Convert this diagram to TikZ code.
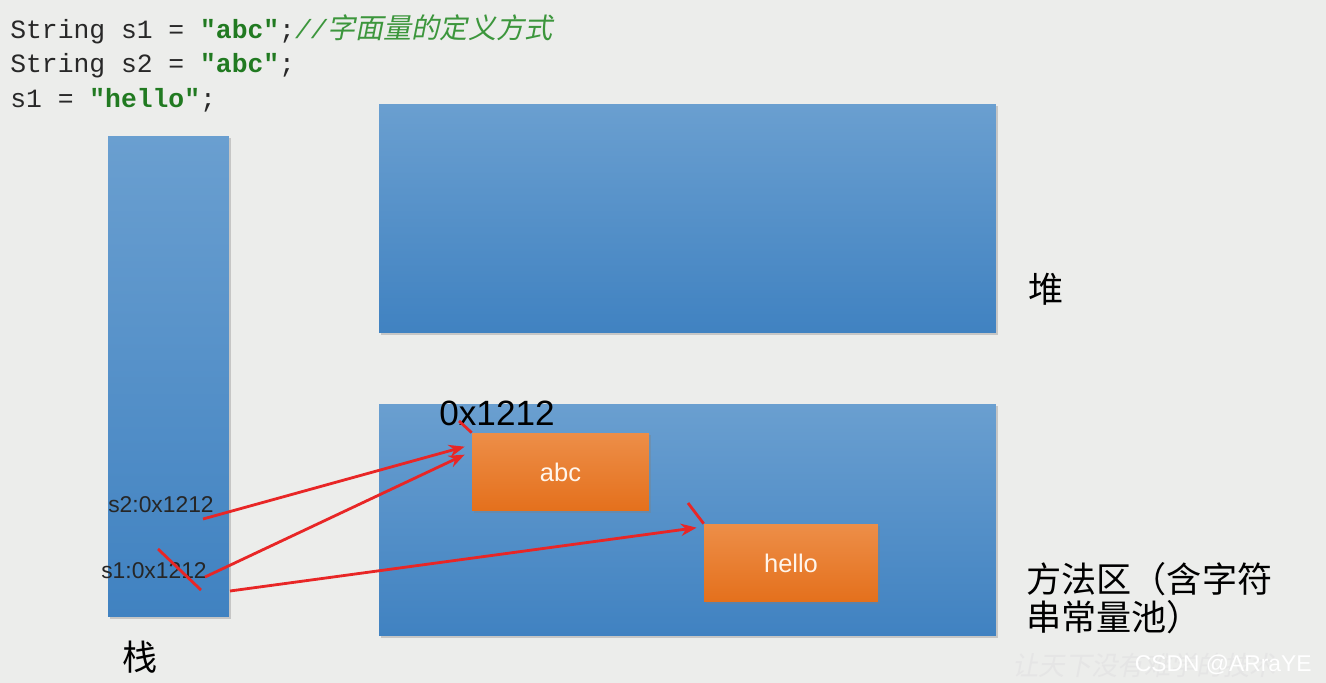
\documentclass[tikz,border=0pt]{standalone}
\usepackage{fontspec}
\setmainfont{Liberation Sans}
\setmonofont{Liberation Mono}
\newfontfamily\cjk{Noto Sans CJK SC}
\newfontfamily\cjkslant[FakeSlant=0.2]{Noto Sans CJK SC}
\usetikzlibrary{arrows.meta}
\usetikzlibrary{positioning}
\usetikzlibrary{shadows}
\definecolor{bg}{RGB}{236,237,235}
\definecolor{blueTop}{RGB}{106,159,208}
\definecolor{blueBot}{RGB}{64,130,193}
\definecolor{orTop}{RGB}{237,142,72}
\definecolor{orBot}{RGB}{228,112,28}
\definecolor{codeGray}{RGB}{40,40,40}
\definecolor{strGreen}{RGB}{33,122,33}
\definecolor{cmtGreen}{RGB}{60,150,60}
\definecolor{penRed}{RGB}{232,38,38}

\begin{document}
\begin{tikzpicture}[x=0.02cm, y=-0.02cm,
    area/.style={rectangle, inner sep=0pt, top color=blueTop, bottom color=blueBot,
      drop shadow={shadow xshift=1.2pt, shadow yshift=-1.2pt, opacity=.35}},
    strbox/.style={rectangle, inner sep=0pt, top color=orTop, bottom color=orBot,
      text=white!92!orange, font=\fontsize{14.5}{16}\selectfont,
      drop shadow={shadow xshift=1.2pt, shadow yshift=-1.2pt, opacity=.35}},
    codeline/.style={anchor=base west, inner sep=0pt, text=codeGray, font=\ttfamily\fontsize{15}{17}\selectfont},
    zone/.style={anchor=west, inner sep=0pt, font=\cjk\fontsize{20}{26}\selectfont, align=left},
    addr/.style={inner sep=0pt, font=\fontsize{13}{15}\selectfont, text=black!85},
    pen/.style={penRed, line width=1.6pt},
    ref/.style={pen, -{Stealth[length=9pt, width=7pt]}}]
    \useasboundingbox [fill=bg] (0,0) rectangle (1326,683);

    \node [codeline] (line1) at (10,38) {String s1 = \textcolor{strGreen}{\bfseries"abc"};\textcolor{cmtGreen}{\textit{//}\cjkslant\fontsize{16}{18}\selectfont 字面量的定义方式}};
    \node [codeline] (line2) at (10,72) {String s2 = \textcolor{strGreen}{\bfseries"abc"};};
    \node [codeline] (line3) at (10,107) {s1 = \textcolor{strGreen}{\bfseries"hello"};};

    \node [area, minimum width=2.42cm, minimum height=9.62cm] (stack) at (168.5,376.5) {};
    \node [area, minimum width=12.34cm, minimum height=4.58cm] (heap) at (687.5,218.5) {};
    \node [area, minimum width=12.34cm, minimum height=4.64cm] (method) at (687.5,520) {};

    \node [strbox, minimum width=3.54cm, minimum height=1.56cm] (abc) at (560.5,472) {abc};
    \node [strbox, minimum width=3.48cm, minimum height=1.56cm] (hello) at (791,563) {hello};

    \node [inner sep=0pt, font=\fontsize{20}{22}\selectfont] (abcaddr) at (497,413) {0x1212};
    \node [addr] (s2) at (161,505) {s2:0x1212};
    \node [addr] (s1) at (154,571) {s1:0x1212};

    \node [zone, anchor=center] (stacklabel) at (140,657) {栈};
    \node [zone] (heaplabel) at (1028,289) {堆};
    \node [zone] (methodlabel) at (1026,598) {方法区（含字符\\[-4pt]串常量池）};

    \coordinate (s2out) at (203,519);
    \coordinate (s1out) at (205,577);
    \coordinate (s1new) at (230,591);
    \coordinate (abcin) at (abc.north west);
    \coordinate (helloin) at (hello.north west);

    \draw [ref] (s2out) -- ([shift={(-7,14)}]abcin);
    \draw [ref] (s1out) -- ([shift={(-7,22)}]abcin);
    \draw [ref] (s1new) -- ([shift={(-7,4)}]helloin);
    \draw [pen] (158,549) -- (201,590);
    \draw [pen] (459,421) -- (abcin);
    \draw [pen] (688,503) -- (helloin);

    \node [inner sep=0pt, anchor=west, text=black!10, font=\cjkslant\fontsize{15}{18}\selectfont] (mark) at (1012,665) {让天下没有难学的技术};
    \node [inner sep=0pt, anchor=east, text=white, font=\fontsize{13}{15}\selectfont] (csdn) at (1312,665) {CSDN @ARraYE};
\end{tikzpicture}
\end{document}
